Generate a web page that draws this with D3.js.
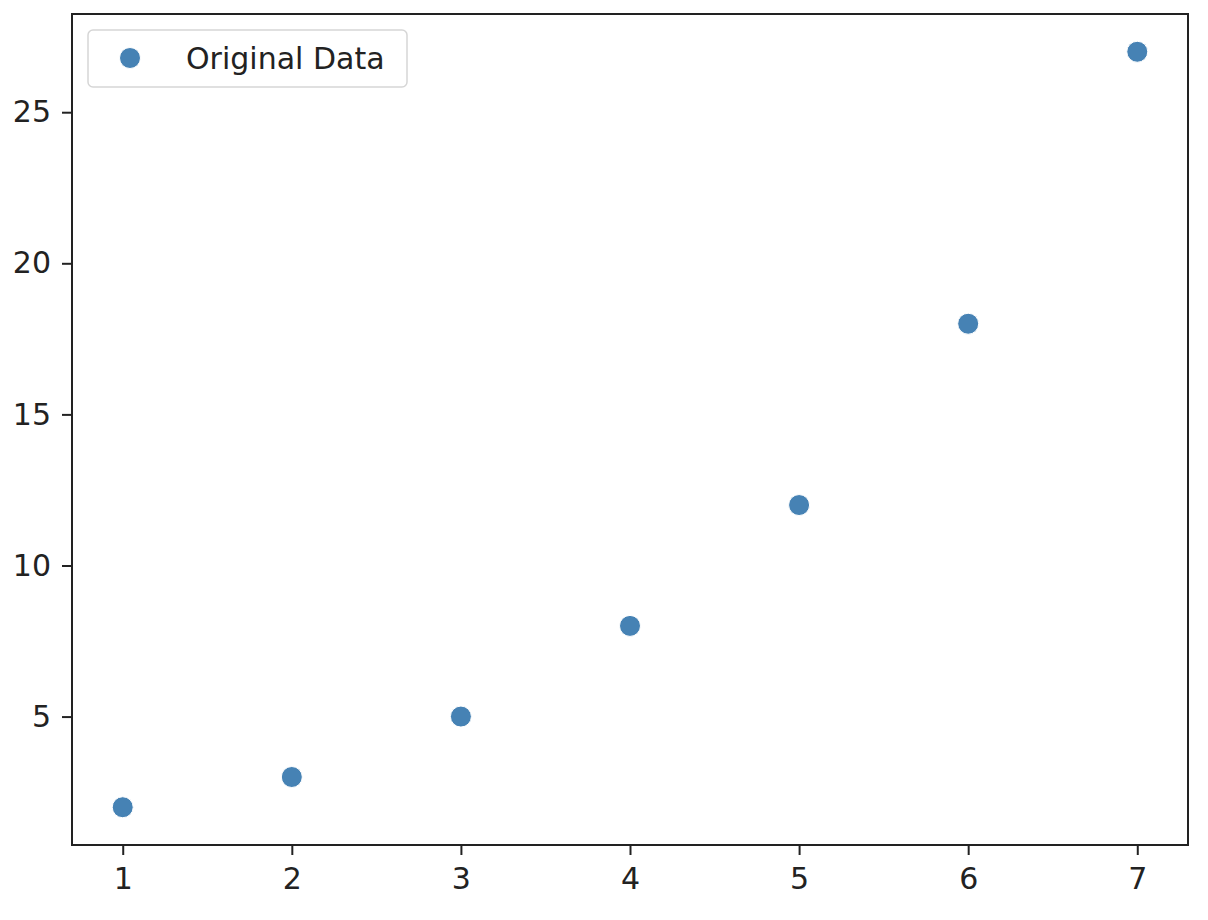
<!DOCTYPE html>
<html>
<head>
<meta charset="utf-8">
<script src="https://cdn.jsdelivr.net/npm/d3@7"></script>
<style>
  body { margin: 0; background: #fff; }
  svg text { font-family: "DejaVu Sans", sans-serif; fill: #222; }
</style>
</head>
<body>
<div id="chart"></div>
<script>
// data
const xValues = [1, 2, 3, 4, 5, 6, 7];
const yValues = [2, 3, 5, 8, 12, 18, 27];
const xTicks = [1, 2, 3, 4, 5, 6, 7];
const yTicks = [5, 10, 15, 20, 25];
const seriesName = 'Original Data';

const width = 1208, height = 920;
const margin = { top: 14, right: 20, bottom: 75, left: 72 };
const innerW = width - margin.left - margin.right;
const innerH = height - margin.top - margin.bottom;

const svg = d3.select('#chart').append('svg')
    .attr('width', width).attr('height', height);

const g = svg.append('g').attr('transform', `translate(${margin.left},${margin.top})`);

// matplotlib style 5% margins
const xPad = (d3.max(xValues) - d3.min(xValues)) * 0.05;
const yPad = (d3.max(yValues) - d3.min(yValues)) * 0.05;
const x = d3.scaleLinear().domain([d3.min(xValues) - xPad, d3.max(xValues) + xPad]).range([0, innerW]);
const y = d3.scaleLinear().domain([d3.min(yValues) - yPad, d3.max(yValues) + yPad]).range([innerH, 0]);

const xAxis = g.append('g').attr('transform', `translate(0,${innerH})`)
    .call(d3.axisBottom(x).tickValues(xTicks).tickSize(10).tickPadding(13).tickFormat(d3.format('d')));
const yAxis = g.append('g')
    .call(d3.axisLeft(y).tickValues(yTicks).tickSize(10).tickPadding(11).tickFormat(d3.format('d')));

[xAxis, yAxis].forEach(a => {
    a.select('.domain').remove();
    a.selectAll('.tick line').attr('stroke', '#222').attr('stroke-width', 2);
    a.selectAll('.tick text').attr('font-size', 30).attr('font-family', '"DejaVu Sans", sans-serif').attr('fill', '#222');
});

// frame
g.append('rect')
    .attr('x', 0).attr('y', 0).attr('width', innerW).attr('height', innerH)
    .attr('fill', 'none').attr('stroke', '#222').attr('stroke-width', 2);

g.selectAll('circle.pt')
    .data(xValues.map((d, i) => ({ x: d, y: yValues[i] })))
    .join('circle')
    .attr('class', 'pt')
    .attr('cx', d => x(d.x))
    .attr('cy', d => y(d.y))
    .attr('r', 10.5)
    .attr('fill', 'steelblue')
    .attr('stroke', '#fff')
    .attr('stroke-width', 1);

// legend
const legend = svg.append('g').attr('transform', 'translate(88,30)');
legend.append('rect')
    .attr('width', 319).attr('height', 57).attr('rx', 5)
    .attr('fill', '#fff').attr('fill-opacity', 0.8)
    .attr('stroke', '#d6d6d6').attr('stroke-width', 1.5);
legend.append('circle')
    .attr('cx', 42).attr('cy', 28).attr('r', 10.5)
    .attr('fill', 'steelblue').attr('stroke', '#fff');
legend.append('text')
    .attr('x', 98).attr('y', 28).attr('dy', '0.35em')
    .attr('font-size', 30)
    .text(seriesName);
</script>
</body>
</html>
